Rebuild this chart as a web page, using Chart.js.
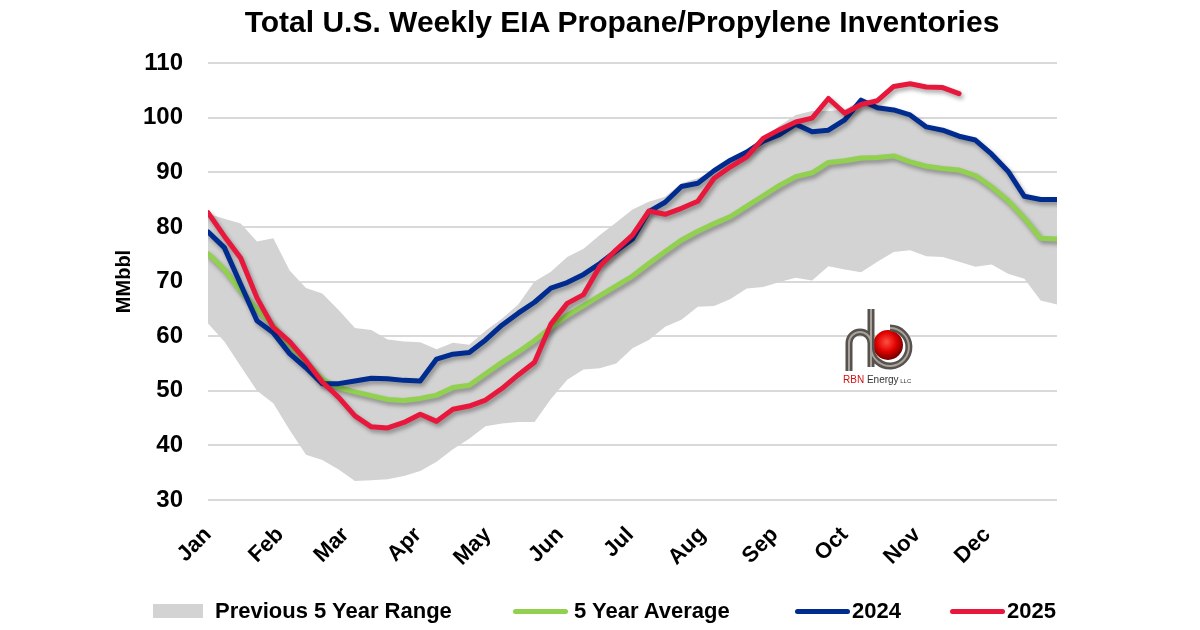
<!DOCTYPE html>
<html>
<head>
<meta charset="utf-8">
<script src="https://cdn.jsdelivr.net/npm/chart.js@4"></script>
<style>
  html, body { margin: 0; padding: 0; background: #fff; }
  #wrap { position: relative; width: 1200px; height: 630px; font-family: 'Liberation Sans', Arial, sans-serif; }
  #title { position: absolute; left: 22px; top: 4px; width: 1200px; text-align: center; font-weight: bold; font-size: 30px; line-height: 36px; color: #000; }
  #legend { position: absolute; left: 0; top: 597px; width: 1200px; height: 30px; font-weight: bold; font-size: 22px; color: #000; }
  .item { position: absolute; top: 0; display: flex; align-items: center; height: 28px; white-space: nowrap; }
  .sw { display: inline-block; }
  #logo { position: absolute; left: 835px; top: 305px; }
</style>
</head>
<body>
<div id="wrap">
  <canvas id="chart" width="1200" height="630"></canvas>
  <div id="title">Total U.S. Weekly EIA Propane/Propylene Inventories</div>
  <svg id="logo" width="90" height="85" viewBox="0 0 90 85">
    <defs>
      <radialGradient id="ball" cx="45%" cy="40%" r="60%">
        <stop offset="0" stop-color="#ff5040"/>
        <stop offset="0.55" stop-color="#e00000"/>
        <stop offset="1" stop-color="#6e0000"/>
      </radialGradient>
    </defs>
    <circle cx="53" cy="40" r="15" fill="url(#ball)"/>
    <g fill="none">
      <path d="M14 66 V38 A11 11 0 0 1 36 38 V62 M36 4 V40 M36 44 A19 19 0 1 0 55 23" stroke="#57524d" stroke-width="7"/>
      <path d="M14 66 V38 A11 11 0 0 1 36 38 V62 M36 4 V40 M36 44 A19 19 0 1 0 55 23" stroke="#a8a29c" stroke-width="2"/>
    </g>
    <text x="8" y="78" font-family="Liberation Sans, Arial" font-size="10"><tspan fill="#d01010">RBN</tspan><tspan fill="#333"> Energy</tspan><tspan fill="#333" font-size="6"> LLC</tspan></text>
  </svg>
  <div id="legend"></div>
</div>
<script>
// weekly points, week 0 = first week of January
const weeks = Array.from({ length: 53 }, (_, i) => i);

const months = ['Jan', 'Feb', 'Mar', 'Apr', 'May', 'Jun', 'Jul', 'Aug', 'Sep', 'Oct', 'Nov', 'Dec'];
const monthStartDay = [0, 31, 59, 90, 120, 151, 181, 212, 243, 273, 304, 334];

const yTicks = [30, 40, 50, 60, 70, 80, 90, 100, 110];

// previous 5 year range (min / max), MMbbl
const rangeLow = [62.3, 59.0, 54.5, 50.0, 47.7, 42.8, 38.3, 37.3, 35.6, 33.5,
  33.6, 33.8, 34.4, 35.3, 37.0, 39.3, 41.2, 43.5, 44.0, 44.3,
  44.3, 48.5, 52.0, 53.9, 54.1, 55.0, 57.8, 59.3, 61.7, 63.0,
  65.4, 65.5, 66.8, 68.7, 69.0, 69.9, 70.7, 70.2, 72.8, 72.2,
  71.7, 73.6, 75.4, 75.7, 74.6, 74.5, 73.6, 72.7, 73.1, 71.4,
  70.5, 66.5, 65.8];
const rangeHigh = [82.4, 81.5, 80.6, 77.3, 77.9, 72.0, 68.8, 67.8, 64.8, 61.5,
  61.1, 59.4, 59.0, 58.9, 57.6, 58.8, 58.4, 61.0, 63.2, 65.8,
  70.0, 71.8, 74.5, 76.0, 78.5, 80.8, 83.2, 84.6, 85.5, 88.0,
  88.9, 90.4, 92.3, 93.8, 96.0, 98.5, 100.5, 101.2, 101.2, 101.5,
  103.2, 101.8, 101.4, 100.5, 98.3, 97.7, 96.6, 95.9, 93.3, 90.2,
  85.6, 85.0, 85.0];

const avg5 = [75.1, 72.2, 68.3, 64.9, 61.9, 58.4, 55.3, 52.1, 50.6, 49.8,
  49.1, 48.4, 48.2, 48.6, 49.2, 50.6, 51.0, 53.1, 55.2, 57.1,
  59.2, 61.6, 63.8, 65.6, 67.4, 69.2, 71.0, 73.3, 75.5, 77.6,
  79.2, 80.6, 81.9, 83.8, 85.7, 87.6, 89.2, 89.9, 91.8, 92.1,
  92.6, 92.7, 93.0, 91.9, 91.1, 90.7, 90.4, 89.4, 87.3, 84.8,
  81.6, 77.9, 77.8];

const y2024 = [79.1, 76.2, 69.5, 62.8, 60.6, 56.8, 54.2, 51.3, 51.3, 51.8,
  52.3, 52.2, 51.9, 51.8, 55.8, 56.7, 57.0, 59.3, 62.0, 64.2,
  66.2, 68.8, 69.8, 71.3, 73.3, 75.6, 77.8, 82.8, 84.5, 87.4,
  88.0, 90.3, 92.2, 93.7, 95.7, 96.9, 98.8, 97.4, 97.7, 99.6,
  103.2, 101.8, 101.4, 100.5, 98.3, 97.7, 96.6, 95.9, 93.3, 90.2,
  85.6, 85.0, 85.0];

const y2025 = [82.6, 78.3, 74.3, 67.0, 61.6, 59.0, 55.5, 51.6, 48.8, 45.4,
  43.4, 43.2, 44.2, 45.7, 44.4, 46.6, 47.2, 48.3, 50.4, 52.9,
  55.2, 62.2, 66.0, 67.6, 72.8, 75.8, 78.5, 82.9, 82.3, 83.4,
  84.7, 88.9, 91.0, 92.8, 96.2, 97.8, 99.2, 99.9, 103.5, 100.8,
  102.4, 103.1, 105.7, 106.2, 105.6, 105.5, 104.4];

const FONT = "'Liberation Sans', Arial, sans-serif";
const GRAY = '#d3d3d3';
const GREEN = '#92d050';
const BLUE = '#002c8f';
const RED = '#e8183c';

// soft drop shadow under the yearly lines
const lineShadow = {
  id: 'lineShadow',
  beforeDatasetDraw(chart, args) {
    if (!chart.data.datasets[args.index].shadow) return;
    const c = chart.ctx;
    c.save();
    c.shadowColor = 'rgba(0,0,0,0.35)';
    c.shadowBlur = 4;
    c.shadowOffsetX = 2;
    c.shadowOffsetY = 3;
  },
  afterDatasetDraw(chart, args) {
    if (chart.data.datasets[args.index].shadow) chart.ctx.restore();
  }
};

const lineStyle = {
  borderWidth: 5,
  pointRadius: 0,
  tension: 0,
  fill: false,
  borderCapStyle: 'round',
  borderJoinStyle: 'round',
  shadow: true
};

const chart = new Chart(document.getElementById('chart'), {
  type: 'line',
  data: {
    labels: weeks,
    datasets: [
      { label: 'low', data: rangeLow, borderWidth: 0, pointRadius: 0, fill: false, order: 10 },
      { label: 'Previous 5 Year Range', data: rangeHigh, borderWidth: 0, pointRadius: 0,
        fill: '-1', backgroundColor: GRAY, order: 9, legendBox: true },
      Object.assign({ label: '5 Year Average', data: avg5, borderColor: GREEN, order: 3 }, lineStyle),
      Object.assign({ label: '2024', data: y2024, borderColor: BLUE, order: 2 }, lineStyle),
      Object.assign({ label: '2025', data: y2025, borderColor: RED, order: 1 }, lineStyle)
    ]
  },
  options: {
    responsive: false,
    animation: false,
    layout: { padding: { top: 63, left: 110, right: 143, bottom: 60 } },
    plugins: {
      legend: { display: false },
      tooltip: { enabled: false },
      title: { display: false }
    },
    scales: {
      x: {
        type: 'linear',
        min: 0,
        max: 52,
        afterBuildTicks: (axis) => {
          axis.ticks = monthStartDay.map(d => ({ value: d / 7 }));
        },
        afterFit: (axis) => { axis.height = 70; },
        ticks: {
          autoSkip: false,
          minRotation: 45,
          maxRotation: 45,
          padding: 14,
          color: '#000',
          font: { family: FONT, size: 22, weight: 'bold' },
          callback: (v, i) => months[i]
        },
        grid: { display: false },
        border: { display: false }
      },
      y: {
        min: 30,
        max: 110,
        afterBuildTicks: (axis) => {
          axis.ticks = yTicks.map(v => ({ value: v }));
        },
        afterFit: (axis) => { axis.width = 98; },
        ticks: {
          padding: 25,
          color: '#000',
          font: { family: FONT, size: 24, weight: 'bold' }
        },
        grid: { color: '#d9d9d9', lineWidth: 2, drawTicks: false },
        border: { display: false },
        title: {
          display: true,
          text: 'MMbbl',
          color: '#000',
          font: { family: FONT, size: 20, weight: 'bold' },
          padding: { top: 2, bottom: 0 }
        }
      }
    }
  },
  plugins: [lineShadow]
});

// legend under the chart, built from the datasets
const legendLeft = [153, 513, 795, 950];
const legendEl = document.getElementById('legend');
chart.data.datasets.filter(ds => ds.label !== 'low').forEach((ds, k) => {
  const item = document.createElement('div');
  item.className = 'item';
  item.style.left = legendLeft[k] + 'px';
  const sw = document.createElement('span');
  sw.className = 'sw';
  if (ds.legendBox) {
    sw.style.cssText = 'width:50px;height:14px;margin-right:12px;background:' + ds.backgroundColor;
  } else {
    sw.style.cssText = 'width:55px;height:5px;border-radius:3px;margin-right:' + (k === 1 ? 6 : 2) + 'px;background:' + ds.borderColor;
  }
  item.appendChild(sw);
  item.appendChild(document.createTextNode(ds.label));
  legendEl.appendChild(item);
});
</script>
</body>
</html>
